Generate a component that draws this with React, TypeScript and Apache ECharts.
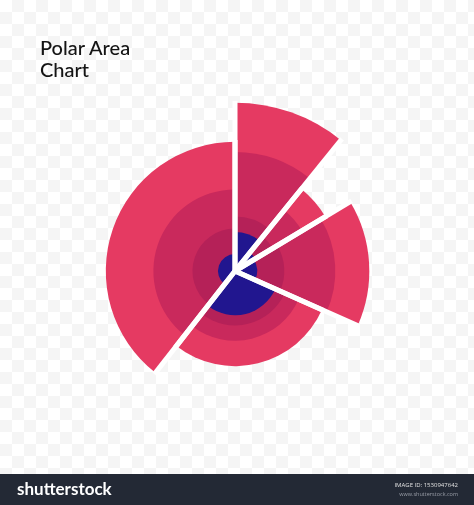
import { useEffect, useRef } from 'react';
import * as echarts from 'echarts';

// segments go clockwise from 12 o'clock
const segments = ['A', 'B', 'C', 'D', 'E'];
const spans = [39, 20, 55, 104, 142];
// stacked layers of each segment, outer to core (radius axis 0..100)
const outerValues = [99, 62, 79, 56, 76];
const midValues = [70, 46, 59, 41, 48];
const innerValues = [32, 26, 29, 32, 25];
const coreValues = [23, 14, 13, 26, 10];

const layerColors = ['#e53a62', '#c9295c', '#b52158', '#21168f'];

export default function App() {
  const chartRef = useRef<HTMLDivElement>(null);

  useEffect(() => {
    if (!chartRef.current) return;
    document.body.style.margin = '0';
    const chart = echarts.init(chartRef.current, null, { renderer: 'svg' });

    let start = 0;
    const data = segments.map((name, i) => {
      const item = {
        name,
        value: [start, start + spans[i], outerValues[i], midValues[i], innerValues[i], coreValues[i]],
      };
      start += spans[i];
      return item;
    });

    const option = {
      animation: false,
      polar: { center: [235, 271], radius: [0, 170] },
      angleAxis: { type: 'value', min: 0, max: 360, startAngle: 90, clockwise: true, show: false },
      radiusAxis: { type: 'value', min: 0, max: 100, show: false },
      series: [
        {
          type: 'custom',
          coordinateSystem: 'polar',
          data,
          renderItem: (params: any, api: any) => {
            const cs = params.coordSys;
            const a0 = api.value(0);
            const a1 = api.value(1);
            const children: any[] = [];
            for (let k = 0; k < 4; k++) {
              const r = api.value(2 + k);
              const p0 = api.coord([r, a0]);
              const p1 = api.coord([r, a1]);
              children.push({
                type: 'sector',
                shape: {
                  cx: cs.cx,
                  cy: cs.cy,
                  r0: 0,
                  r: p0[2],
                  startAngle: -p0[3],
                  endAngle: -p1[3],
                  clockwise: true,
                },
                style: { fill: layerColors[k] },
              });
            }
            // white gaps between segments
            const rOut = api.value(2) + 1;
            [a0, a1].forEach((a) => {
              const p = api.coord([rOut, a]);
              children.push({
                type: 'line',
                z2: 10,
                shape: { x1: cs.cx, y1: cs.cy, x2: p[0], y2: p[1] },
                style: { stroke: '#ffffff', lineWidth: 5 },
              });
            });
            return { type: 'group', children };
          },
        },
      ],
      graphic: [
        {
          type: 'text',
          left: 40,
          top: 36,
          style: {
            text: 'Polar Area\nChart',
            font: '500 20px Lato',
            lineHeight: 22,
            fill: '#151515',
          },
        },
        {
          type: 'rect',
          left: 0,
          top: 474,
          shape: { width: 474, height: 31 },
          style: { fill: '#232935' },
        },
        {
          type: 'text',
          left: 17,
          top: 480,
          style: { text: 'shutterstock', font: 'bold 17px Lato', fill: '#ffffff' },
        },
        {
          type: 'text',
          right: 16,
          top: 482,
          style: { text: 'IMAGE ID: 1530947642', font: '6px "Open Sans"', fill: '#e0e0e0', align: 'right' },
        },
        {
          type: 'text',
          right: 16,
          top: 491,
          style: { text: 'www.shutterstock.com', font: '5.5px "Open Sans"', fill: '#9a9ea8', align: 'right' },
        },
      ],
    };

    chart.setOption(option);
    return () => chart.dispose();
  }, []);

  return (
    <div
      ref={chartRef}
      style={{
        position: 'fixed',
        left: 0,
        top: 0,
        width: 474,
        height: 505,
        background: 'repeating-conic-gradient(#f5f5f5 0% 25%, #ffffff 0% 50%) 0 0 / 24px 24px',
      }}
    />
  );
}
